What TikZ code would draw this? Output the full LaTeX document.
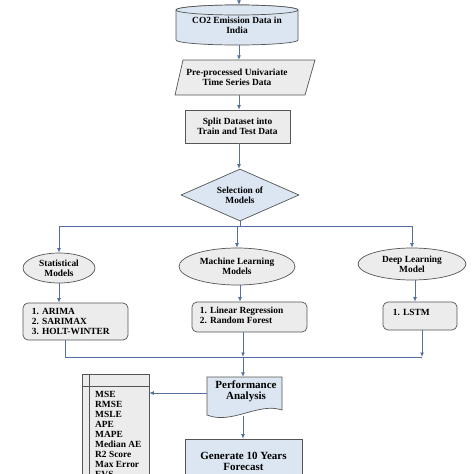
\documentclass[tikz,border=0pt]{standalone}
\usepackage{fontspec}
\setmainfont{Liberation Serif}
\usetikzlibrary{shapes.geometric,arrows.meta}
\definecolor{lineblue}{RGB}{84,112,160}
\definecolor{boxblue}{RGB}{220,230,242}
\definecolor{boxgray}{RGB}{236,236,236}
\definecolor{edgegray}{RGB}{85,85,85}
\begin{document}
\begin{tikzpicture}[x=1pt,y=-1pt,
  every node/.style={font=\bfseries\fontsize{9.4}{10}\selectfont, inner sep=0pt, align=center},
  bigtext/.style={font=\bfseries\fontsize{11}{11.5}\selectfont},
  conn/.style={draw=lineblue, line width=1pt},
  arr/.style={conn, -{Latex[length=4.5pt,width=4pt]}},
  blueshape/.style={draw=edgegray, fill=boxblue, line width=0.7pt},
  grayshape/.style={draw=edgegray, fill=boxgray, line width=0.7pt},
  roundbox/.style={grayshape, rectangle, rounded corners=5pt},
  listtext/.style={anchor=north west, align=left}]
\useasboundingbox (0,0) rectangle (474,474);
\clip (0,0) rectangle (474,474);
\fill[white] (0,0) rectangle (474,474);

% cylinder
\path[blueshape] (176,10) -- (176,40) arc[start angle=180,end angle=0,x radius=61,y radius=5]
  -- (298,10) arc[start angle=0,end angle=-180,x radius=61,y radius=5] -- cycle;
\draw[blueshape] (237,10) ellipse[x radius=61,y radius=5];
\node[minimum width=122pt,minimum height=40pt] (cyl) at (237,25) {CO2 Emission Data in\\India};

% parallelogram
\path[grayshape] (183,60) -- (315,60) -- (305,95) -- (175,95) -- cycle;
\node[minimum width=130pt,minimum height=35pt] (para) at (237,77.5) {Pre-processed Univariate\\Time Series Data};

% rectangle
\node[grayshape, rectangle, minimum width=105pt, minimum height=33pt] (split) at (237.5,126.5) {Split Dataset into\\Train and Test Data};

% diamond
\node[blueshape, diamond, aspect=2.27, minimum width=118pt, minimum height=52pt] (sel) at (240,195) {Selection of\\Models};

% ellipses
\node[grayshape, ellipse, minimum width=72pt, minimum height=30pt] (stat) at (59,268) {Statistical\\Models};
\node[grayshape, ellipse, minimum width=116pt, minimum height=37pt] (mlell) at (237,266.5) {Machine Learning\\Models};
\node[grayshape, ellipse, minimum width=108pt, minimum height=32pt] (dlell) at (412,264) {Deep Learning\\Model};

% rounded boxes
\node[roundbox, minimum width=105pt, minimum height=37pt] (statbox) at (75.5,321.5) {};
\node[listtext] (statlist) at ([xshift=9pt,yshift=-5pt]statbox.north west) {1. ARIMA\\2. SARIMAX\\3. HOLT-WINTER};
\node[roundbox, minimum width=115pt, minimum height=30pt] (mlbox) at (249.5,317) {};
\node[listtext] (mllist) at ([xshift=8pt,yshift=-5pt]mlbox.north west) {1. Linear Regression\\2. Random Forest};
\node[roundbox, minimum width=74pt, minimum height=28pt] (dlbox) at (420,316) {};
\node[listtext] (dllist) at ([xshift=10pt,yshift=-7pt]dlbox.north west) {1. LSTM};

% performance analysis (document shape)
\path[blueshape] (207,377) -- (282,377) -- (282,410) .. controls (258,402) and (232,425) .. (207,415) -- cycle;
\node[bigtext, minimum width=75pt, minimum height=29pt] (pa) at (246,391.5) {Performance\\Analysis};

% generate
\node[blueshape, bigtext, rectangle, minimum width=117pt, minimum height=45pt] (gen) at (243.5,461.5) {Generate 10 Years\\Forecast};

% metrics
\node[grayshape, rectangle, minimum width=67pt, minimum height=112pt] (met) at (115.5,430) {};
\draw[edgegray, line width=0.7pt] ([xshift=8pt]met.north west) -- ([xshift=8pt]met.south west);
\draw[edgegray, line width=0.7pt] ([yshift=-13pt]met.north west) -- ([yshift=-13pt]met.north east);
\node[listtext] (metlist) at (95,391) {MSE\\RMSE\\MSLE\\APE\\MAPE\\Median AE\\R2 Score\\Max Error\\EVS};

% connectors
\coordinate (start) at (239,-5);
\coordinate (bus1) at (240,226);
\coordinate (bus2) at (243,357);
\coordinate (dlcorner) at (422,357);
\draw[arr] (start) -- (start |- cyl.north);
\draw[arr] (cyl.south -| start) -- (start |- para.north);
\draw[arr] (para.south -| start) -- (start |- split.north);
\draw[arr] (split.south -| start) -- (start |- sel.north);
\draw[conn] (sel.south) -- (bus1);
\draw[arr] (bus1) -| (stat.north);
\draw[arr] (bus1) -| (mlell.north);
\draw[arr] (bus1) -| (dlell.north);
\draw[arr] (stat.south) -- (stat.south |- statbox.north);
\draw[arr] ([xshift=3pt]mlell.south) -- ([xshift=3pt]mlell.south |- mlbox.north);
\draw[arr] ([xshift=3pt]dlell.south) -- ([xshift=3pt]dlell.south |- dlbox.north);
\draw[conn] ([xshift=-10.5pt]statbox.south) |- (bus2);
\draw[arr] ([xshift=2pt]dlbox.south) -- (dlcorner);
\draw[conn] (dlcorner) -- (bus2);
\draw[arr] ([xshift=-6.5pt]mlbox.south) -- (bus2);
\draw[arr] (bus2) -- (bus2 |- pa.north);
\draw[arr] ([yshift=-1.5pt]pa.west -| 207,0) -- ([yshift=-1.5pt]pa.west -| met.east);
\draw[arr] ([xshift=-3pt,yshift=-10pt]pa.south) -- ([xshift=-3pt]pa.south |- gen.north);
\end{tikzpicture}
\end{document}
